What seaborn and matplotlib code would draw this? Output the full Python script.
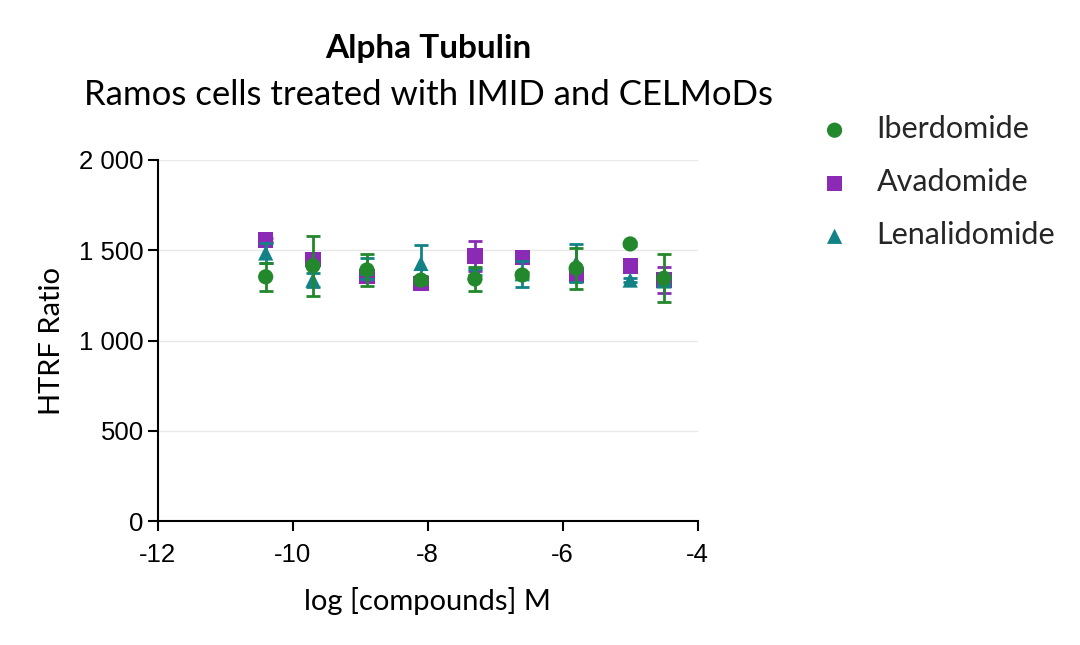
import pandas as pd
import seaborn as sns
import matplotlib.pyplot as plt
from matplotlib.ticker import FuncFormatter

# log concentrations
log_conc = [-10.4, -9.7, -8.9, -8.1, -7.3, -6.6, -5.8, -5.0, -4.5]

compounds = ["Iberdomide", "Avadomide", "Lenalidomide"]

iberdomide = [1353, 1414, 1391, 1335, 1341, 1363, 1400, 1535, 1345]
iberdomide_sd = [78, 165, 88, 20, 67, 15, 113, 10, 134]

avadomide = [1557, 1451, 1353, 1317, 1468, 1461, 1363, 1413, 1335]
avadomide_sd = [10, 20, 10, 10, 82, 10, 15, 10, 73]

lenalidomide = [1485, 1335, 1400, 1427, 1380, 1370, 1430, 1335, 1330]
lenalidomide_sd = [55, 40, 59, 102, 15, 72, 103, 10, 15]

colors = {"Iberdomide": "#23882c", "Avadomide": "#8b2bb5", "Lenalidomide": "#138287"}
markers = {"Iberdomide": "o", "Avadomide": "s", "Lenalidomide": "^"}

values = {"Iberdomide": (iberdomide, iberdomide_sd),
          "Avadomide": (avadomide, avadomide_sd),
          "Lenalidomide": (lenalidomide, lenalidomide_sd)}

rows = []
for name in compounds:
    ys, sds = values[name]
    for x, y, sd in zip(log_conc, ys, sds):
        rows.append({"log_conc": x, "ratio": y, "sd": sd, "compound": name})
df = pd.DataFrame(rows)

sns.set_theme(style="white")
plt.rcParams['font.family'] = ['Lato', 'DejaVu Sans']
plt.rcParams['axes.unicode_minus'] = False

fig = plt.figure(figsize=(10.8, 6.45), dpi=100)
ax = fig.add_axes([0.146, 0.192, 0.5, 0.56])

ax.yaxis.grid(True, color="#e8e8e8", linewidth=1.0)
ax.set_axisbelow(True)

# purple first, then teal, green on top
z = {"Avadomide": 3, "Lenalidomide": 4, "Iberdomide": 5}
for name in ["Avadomide", "Lenalidomide", "Iberdomide"]:
    d = df[df["compound"] == name]
    ax.errorbar(d["log_conc"], d["ratio"], yerr=d["sd"], fmt="none",
                ecolor=colors[name], elinewidth=2, capsize=5, capthick=2,
                zorder=z[name])
    sns.scatterplot(data=d, x="log_conc", y="ratio", marker=markers[name],
                    color=colors[name], s=120, edgecolor="none",
                    label=name, ax=ax, zorder=z[name] + 0.5)

ax.set_xlim(-12, -4)
ax.set_ylim(0, 2000)
ax.set_xticks([-12, -10, -8, -6, -4])
ax.set_yticks([0, 500, 1000, 1500, 2000])
ax.xaxis.set_major_formatter(FuncFormatter(lambda v, p: "%d" % v))
ax.yaxis.set_major_formatter(FuncFormatter(lambda v, p: "{:,}".format(int(v)).replace(",", " ")))

for side in ["top", "right"]:
    ax.spines[side].set_visible(False)
for side in ["left", "bottom"]:
    ax.spines[side].set_color("black")
    ax.spines[side].set_linewidth(1.5)

ax.tick_params(axis="both", direction="out", length=7, width=1.5, color="black",
               labelsize=18.5, labelcolor="black", left=True, bottom=True)
ax.tick_params(axis="x", pad=9)
ax.tick_params(axis="y", pad=3)
for lab in ax.get_xticklabels() + ax.get_yticklabels():
    lab.set_family(["Liberation Sans", "DejaVu Sans"])

ax.set_xlabel("log [compounds] M", fontsize=21, labelpad=14, color="black")
ax.set_ylabel("HTRF Ratio", fontsize=21, labelpad=10, color="black")

fig.text(0.397, 0.925, "Alpha Tubulin", ha="center", va="center",
         fontsize=24, fontweight="bold", color="black")
fig.text(0.397, 0.853, "Ramos cells treated with IMID and CELMoDs", ha="center",
         va="center", fontsize=25, color="black")

handles, labels = ax.get_legend_handles_labels()
order = [labels.index(c) for c in compounds]
leg = ax.legend([handles[i] for i in order], [labels[i] for i in order],
                loc="upper left", bbox_to_anchor=(1.146, 1.20), frameon=False,
                fontsize=22, handletextpad=0.37, labelspacing=0.82,
                markerscale=1.0)

fig.savefig("out.png", dpi=100)
